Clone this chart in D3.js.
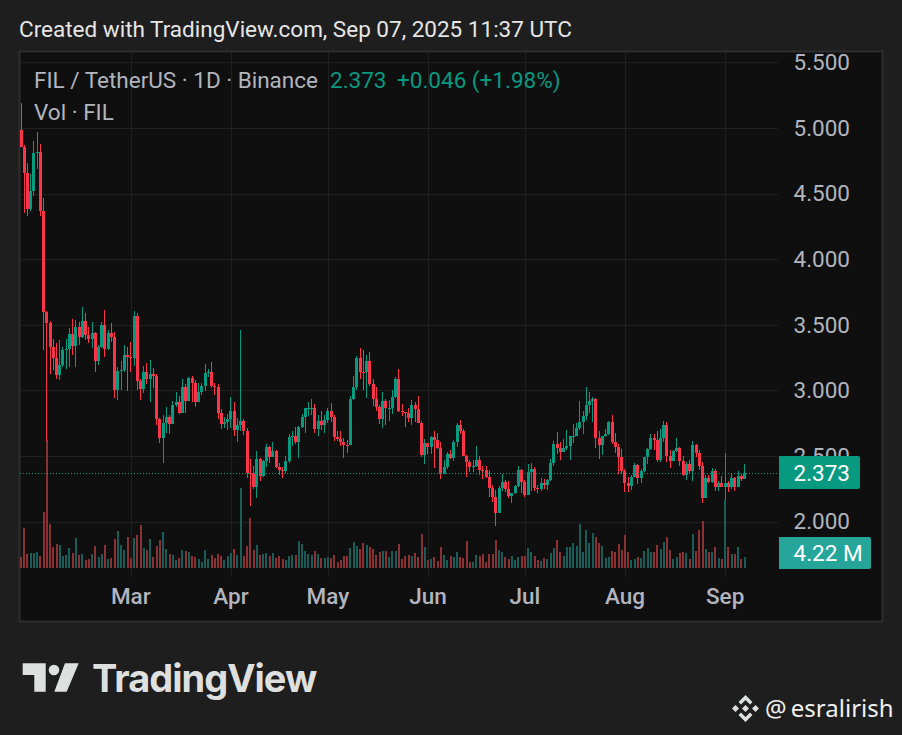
<!DOCTYPE html>
<html>
<head>
<meta charset="utf-8">
<script src="https://cdn.jsdelivr.net/npm/d3@7"></script>
<style>
html, body { margin: 0; padding: 0; background: #1e1e1e; }
svg { display: block; font-family: Roboto, sans-serif; }
</style>
</head>
<body>
<script>
// FIL / USDT daily
var firstOpen = 4.985;
var closes = [4.858,4.66,4.383,4.518,4.807,4.815,4.37,3.60,3.51,3.33,
3.245,3.118,3.194,3.308,3.313,3.43,3.341,3.481,3.405,3.529,
3.423,3.395,3.438,3.227,3.334,3.499,3.318,3.44,3.407,3.0,
3.148,3.153,3.27,3.258,3.25,3.568,3.074,3.011,3.138,3.087,
3.125,3.113,2.782,2.64,2.749,2.80,2.744,2.89,2.914,2.825,
3.024,2.92,3.092,3.06,2.914,2.99,3.03,3.13,3.138,3.035,
3.028,2.83,2.747,2.76,2.782,2.843,2.70,2.737,2.767,2.691,
2.373,2.37,2.264,2.478,2.348,2.462,2.569,2.495,2.538,2.417,
2.395,2.386,2.462,2.645,2.653,2.61,2.72,2.798,2.864,2.866,
2.868,2.709,2.767,2.737,2.772,2.843,2.80,2.645,2.63,2.61,
2.587,2.585,2.935,3.024,3.25,3.143,3.14,3.225,3.049,2.937,
2.87,2.78,2.92,2.864,2.866,2.948,3.085,2.846,2.835,2.825,
2.792,2.888,2.858,2.754,2.507,2.599,2.566,2.645,2.624,2.558,
2.363,2.413,2.515,2.482,2.606,2.736,2.693,2.502,2.454,2.416,
2.42,2.469,2.393,2.39,2.34,2.256,2.187,2.065,2.256,2.302,
2.248,2.195,2.218,2.271,2.393,2.302,2.203,2.378,2.40,2.256,
2.25,2.294,2.279,2.317,2.446,2.591,2.561,2.53,2.558,2.576,
2.652,2.654,2.713,2.759,2.805,2.888,2.916,2.934,2.64,2.586,
2.652,2.665,2.761,2.606,2.571,2.49,2.385,2.294,2.271,2.342,
2.431,2.332,2.385,2.492,2.553,2.637,2.622,2.469,2.637,2.736,
2.50,2.462,2.538,2.561,2.462,2.355,2.439,2.383,2.584,2.523,
2.423,2.18,2.332,2.302,2.385,2.263,2.294,2.263,2.294,2.263,
2.332,2.263,2.347,2.327,2.373];
var highs = [5.188,4.871,4.73,4.65,4.90,4.97,4.876,4.464,3.605,3.53,
3.39,3.36,3.384,3.334,3.39,3.476,3.542,3.537,3.524,3.633,
3.593,3.486,3.519,3.448,3.347,3.524,3.613,3.46,3.511,3.443,
3.181,3.227,3.346,3.329,3.372,3.606,3.588,3.09,3.186,3.207,
3.232,3.168,3.125,2.787,2.813,2.876,2.813,2.922,2.99,2.96,
3.087,3.05,3.105,3.11,3.08,3.06,3.054,3.2,3.16,3.22,
3.06,3.05,2.859,2.80,2.82,2.948,2.912,2.787,3.461,2.782,
2.71,2.477,2.424,2.538,2.488,2.47,2.592,2.577,2.607,2.546,
2.444,2.419,2.5,2.668,2.69,2.719,2.729,2.82,2.864,2.91,
2.935,2.897,2.813,2.843,2.813,2.864,2.904,2.81,2.69,2.69,
2.635,2.622,2.958,3.113,3.263,3.321,3.308,3.27,3.293,3.087,
3.024,2.892,2.988,2.935,2.927,3.0,3.10,3.161,2.896,2.838,
2.863,2.927,2.909,2.957,2.767,2.627,2.599,2.652,2.69,2.672,
2.606,2.469,2.533,2.545,2.622,2.749,2.774,2.703,2.507,2.469,
2.469,2.576,2.50,2.423,2.423,2.393,2.279,2.24,2.271,2.363,
2.317,2.309,2.22,2.279,2.423,2.40,2.317,2.439,2.446,2.413,
2.279,2.332,2.324,2.324,2.477,2.614,2.683,2.606,2.629,2.698,
2.652,2.744,2.751,2.919,2.843,3.023,2.988,2.947,2.944,2.69,
2.652,2.703,2.769,2.812,2.672,2.591,2.553,2.40,2.337,2.355,
2.446,2.439,2.40,2.492,2.561,2.667,2.667,2.69,2.708,2.766,
2.759,2.545,2.545,2.637,2.571,2.50,2.454,2.469,2.614,2.591,
2.545,2.454,2.355,2.355,2.408,2.398,2.309,2.347,2.523,2.309,
2.363,2.34,2.385,2.363,2.439];
var lows = [4.858,4.355,4.332,4.37,4.485,4.69,4.33,3.31,2.614,3.125,
3.155,3.087,3.08,3.18,3.166,3.18,3.27,3.18,3.346,3.397,
3.385,3.359,3.32,3.143,3.194,3.32,3.257,3.31,3.372,2.945,
2.93,3.0,3.14,2.996,3.143,3.186,3.0,2.93,2.983,3.05,
2.914,3.016,2.737,2.597,2.45,2.673,2.668,2.744,2.876,2.82,
2.83,2.826,2.92,2.914,2.871,2.914,2.965,2.998,3.1,3.016,
2.965,2.782,2.706,2.71,2.70,2.71,2.653,2.61,2.69,2.66,
2.335,2.122,2.249,2.183,2.312,2.343,2.419,2.45,2.495,2.41,
2.356,2.335,2.373,2.45,2.579,2.592,2.488,2.71,2.673,2.805,
2.813,2.673,2.655,2.70,2.678,2.75,2.762,2.617,2.617,2.579,
2.488,2.52,2.587,2.93,3.0,3.087,3.0,2.942,3.037,2.88,
2.846,2.744,2.71,2.737,2.767,2.82,2.943,2.838,2.807,2.723,
2.761,2.736,2.761,2.749,2.495,2.439,2.515,2.515,2.41,2.55,
2.324,2.363,2.398,2.477,2.464,2.571,2.667,2.497,2.34,2.38,
2.38,2.416,2.355,2.322,2.33,2.19,2.146,1.969,2.063,2.236,
2.228,2.182,2.144,2.208,2.266,2.215,2.187,2.203,2.233,2.233,
2.22,2.233,2.248,2.24,2.312,2.424,2.515,2.469,2.53,2.545,
2.469,2.596,2.652,2.698,2.667,2.774,2.83,2.761,2.563,2.479,
2.507,2.647,2.66,2.591,2.525,2.363,2.363,2.225,2.225,2.24,
2.34,2.286,2.294,2.38,2.439,2.548,2.545,2.457,2.457,2.606,
2.454,2.408,2.462,2.53,2.423,2.347,2.317,2.363,2.309,2.492,
2.393,2.141,2.18,2.294,2.294,2.233,2.233,2.263,2.164,2.225,
2.248,2.233,2.263,2.309,2.324];
// volume in millions FIL
var volumes = [4.22,15.36,5.38,5.63,5.76,6.14,4.61,21.5,49.15,16.9,
8.06,9.22,8.83,4.61,4.99,7.68,5.76,11.52,4.99,5.38,
3.07,3.46,5.38,8.45,4.22,5.38,8.83,3.46,3.84,11.14,
14.21,8.83,6.91,11.9,3.84,11.52,12.67,16.51,7.68,6.91,
11.14,4.22,8.45,10.75,13.82,7.3,5.38,4.99,3.07,3.84,
6.91,6.53,6.14,4.61,4.22,3.46,2.3,6.91,3.46,4.99,
3.84,5.38,4.61,3.07,4.61,5.76,7.3,4.99,30.72,4.61,
8.45,19.2,6.91,8.83,4.99,5.38,5.76,4.61,5.76,3.84,
4.61,3.46,3.07,4.61,4.99,4.99,10.37,9.22,6.53,5.38,
4.99,6.53,5.38,3.84,3.84,4.22,3.84,4.99,2.3,3.07,
4.61,4.61,7.68,9.98,8.45,7.3,9.6,8.83,8.06,7.3,
4.99,6.14,6.53,6.53,4.22,6.53,6.53,9.22,3.46,4.61,
4.99,4.61,5.76,4.22,13.06,8.06,3.07,3.46,4.22,2.69,
8.06,4.99,3.07,4.61,4.22,6.14,4.22,3.84,10.37,2.3,
2.3,4.99,4.61,5.38,2.3,5.38,5.38,10.75,6.91,6.14,
4.22,3.46,4.61,3.07,4.22,4.61,4.61,7.68,6.14,4.61,
3.07,2.69,3.84,3.46,5.76,7.68,10.75,6.14,4.61,8.06,
8.06,9.6,8.45,16.9,6.14,14.59,9.6,13.44,11.9,9.6,
8.45,3.84,4.22,6.53,6.14,9.22,6.91,12.67,6.14,3.07,
3.46,4.22,3.84,6.53,7.68,6.14,6.14,8.83,7.3,9.98,
11.9,6.91,3.46,4.22,5.76,6.14,5.76,3.46,13.06,6.53,
14.59,18.05,7.3,6.14,6.14,8.06,3.84,3.46,26.11,8.06,
5.38,5.38,8.06,3.46,4.22];
var opens = [firstOpen].concat(closes.slice(0, -1));

var priceTicks = [5.5, 5, 4.5, 4, 3.5, 3, 2.5, 2];
var monthNames = ["Mar", "Apr", "May", "Jun", "Jul", "Aug", "Sep"];
var monthStart = [34, 65, 95, 126, 156, 187, 218];   // candle index of the 1st

var lastPrice = 2.373;
var lastVolume = 4.22;

var w = 902, h = 735;
var upColor = "#089981", downColor = "#fa3449";
var upVol = "#1a5c58", downVol = "#8a3136";
var gridColor = "#202020", textGrey = "#b2b5be";

var svg = d3.select("body").append("svg").attr("width", w).attr("height", h);

svg.append("rect").attr("width", w).attr("height", h).attr("fill", "#1e1e1e");
svg.append("rect").attr("x", 19.5).attr("y", 51.5).attr("width", 863).attr("height", 570)
    .attr("fill", "#0f0f0f").attr("stroke", "#2e2e2e").attr("stroke-width", 2);

var x = d3.scaleLinear().domain([0, 224]).range([21, 744.5]);
var y = d3.scaleLinear().domain([2, 5]).range([521.6, 128]);
var yVol = d3.scaleLinear().domain([0, 49.15]).range([568, 440]);

// grid
svg.append("g").selectAll("line").data(priceTicks).enter().append("line")
    .attr("x1", 20).attr("x2", 778)
    .attr("y1", function(d) { return Math.round(y(d)) + 0.5; })
    .attr("y2", function(d) { return Math.round(y(d)) + 0.5; })
    .attr("stroke", gridColor);
svg.append("g").selectAll("line").data(monthStart).enter().append("line")
    .attr("y1", 52).attr("y2", 577)
    .attr("x1", function(d) { return Math.round(x(d)) + 0.5; })
    .attr("x2", function(d) { return Math.round(x(d)) + 0.5; })
    .attr("stroke", gridColor);

var candles = closes.map(function(c, i) {
    return { i: i, open: opens[i], high: highs[i], low: lows[i], close: c, vol: volumes[i] };
});

// volume bars
svg.append("g").attr("shape-rendering", "crispEdges")
    .selectAll("rect").data(candles).enter().append("rect")
    .attr("x", function(d) { return Math.round(x(d.i) - 1); })
    .attr("width", 2)
    .attr("y", function(d) { return yVol(d.vol); })
    .attr("height", function(d) { return yVol(0) - yVol(d.vol); })
    .attr("fill", function(d) { return d.close >= d.open ? upVol : downVol; });

// wicks
svg.append("g").attr("shape-rendering", "crispEdges")
    .selectAll("rect").data(candles).enter().append("rect")
    .attr("x", function(d) { return Math.round(x(d.i) - 1.5) + 1; })
    .attr("width", 1)
    .attr("y", function(d) { return y(d.high); })
    .attr("height", function(d) { return y(d.low) - y(d.high); })
    .attr("fill", function(d) { return d.close >= d.open ? upColor : downColor; });

// bodies
svg.append("g").attr("shape-rendering", "crispEdges")
    .selectAll("rect").data(candles).enter().append("rect")
    .attr("x", function(d) { return Math.round(x(d.i) - 1.5); })
    .attr("width", 3)
    .attr("y", function(d) { return y(Math.max(d.open, d.close)); })
    .attr("height", function(d) { return Math.max(1, Math.abs(y(d.open) - y(d.close))); })
    .attr("fill", function(d) { return d.close >= d.open ? upColor : downColor; });

// last price line
svg.append("line").attr("x1", 20).attr("x2", 778)
    .attr("y1", Math.round(y(lastPrice)) + 0.5).attr("y2", Math.round(y(lastPrice)) + 0.5)
    .attr("stroke", upColor).attr("stroke-dasharray", "1 2");

// axes
var axisR = d3.axisRight(y).tickValues(priceTicks).tickFormat(d3.format(".3f")).tickSize(0).tickPadding(0);
var gy = svg.append("g").attr("transform", "translate(793.5,0)").call(axisR);
gy.select(".domain").remove();
gy.selectAll("text").attr("fill", textGrey).attr("font-size", 22.5).attr("font-family", "Roboto");

var axisB = d3.axisBottom(x).tickValues(monthStart)
    .tickFormat(function(d, i) { return monthNames[i]; }).tickSize(0).tickPadding(0);
var gx = svg.append("g").attr("transform", "translate(-0.5,588.5)").call(axisB);
gx.select(".domain").remove();
gx.selectAll("text").attr("fill", textGrey).attr("font-size", 22.5).attr("font-weight", 500).attr("font-family", "Roboto");

// last value labels
function valueLabel(top, width, height, color, label) {
    var r = 2, right = 779 + width;
    svg.append("path")
        .attr("d", "M779," + top + "H" + (right - r) + "Q" + right + "," + top + " " + right + "," + (top + r)
            + "V" + (top + height - r) + "Q" + right + "," + (top + height) + " " + (right - r) + "," + (top + height)
            + "H779Z")
        .attr("fill", color);
    svg.append("text").attr("x", 793.5).attr("y", top + height / 2 + 8)
        .attr("fill", "#ffffff").attr("font-size", 22.5).text(label);
}
valueLabel(456, 81, 33, "#089981", d3.format(".3f")(lastPrice));
valueLabel(537, 92, 32, "#26a69a", lastVolume.toFixed(2) + " M");

// legend
svg.append("text").attr("x", 34).attr("y", 88).attr("fill", textGrey).attr("font-size", 22.5)
    .text("FIL / TetherUS · 1D · Binance");
svg.append("text").attr("x", 330).attr("y", 88).attr("fill", upColor).attr("font-size", 22.5)
    .text("2.373");
svg.append("text").attr("x", 397).attr("y", 88).attr("fill", upColor).attr("font-size", 22.5)
    .text("+0.046 (+1.98%)");
svg.append("text").attr("x", 34).attr("y", 120).attr("fill", textGrey).attr("font-size", 22.5)
    .text("Vol · FIL");

// header
svg.append("text").attr("x", 19).attr("y", 37).attr("fill", "#e6e6e6").attr("font-size", 22.5)
    .text("Created with TradingView.com, Sep 07, 2025 11:37 UTC");

// TradingView logo
var logo = svg.append("g").attr("fill", "#dedfdf");
logo.append("path").attr("d", "M22.7,663.3H45.7V691.7H34.3V675H22.7Z");
logo.append("circle").attr("cx", 54).attr("cy", 670).attr("r", 5.3);
logo.append("path").attr("d", "M65,663.3H78.7L66.7,691.7H54.3Z");
svg.append("text").attr("x", 92).attr("y", 692).attr("fill", "#dedfdf")
    .attr("font-family", "Inter").attr("font-weight", 700).attr("font-size", 38).attr("letter-spacing", -1)
    .text("TradingView");

// watermark
var bn = svg.append("g").attr("fill", "#dedfdf").attr("transform", "translate(745.5,708.5)");
bn.append("path").attr("d", "M0,-13.5L7,-6.5L4.5,-4L0,-8.5L-4.5,-4L-7,-6.5Z");
bn.append("path").attr("d", "M0,13.5L7,6.5L4.5,4L0,8.5L-4.5,4L-7,6.5Z");
bn.append("path").attr("d", "M-13.5,0L-10,-3.5L-6.5,0L-10,3.5Z");
bn.append("path").attr("d", "M13.5,0L10,-3.5L6.5,0L10,3.5Z");
bn.append("path").attr("d", "M0,-3.5L3.5,0L0,3.5L-3.5,0Z");
svg.append("text").attr("x", 765).attr("y", 717).attr("fill", "#f0f0f0")
    .attr("font-family", "Noto Sans").attr("font-size", 24).attr("word-spacing", -2).text("@ esralirish");
</script>
</body>
</html>
